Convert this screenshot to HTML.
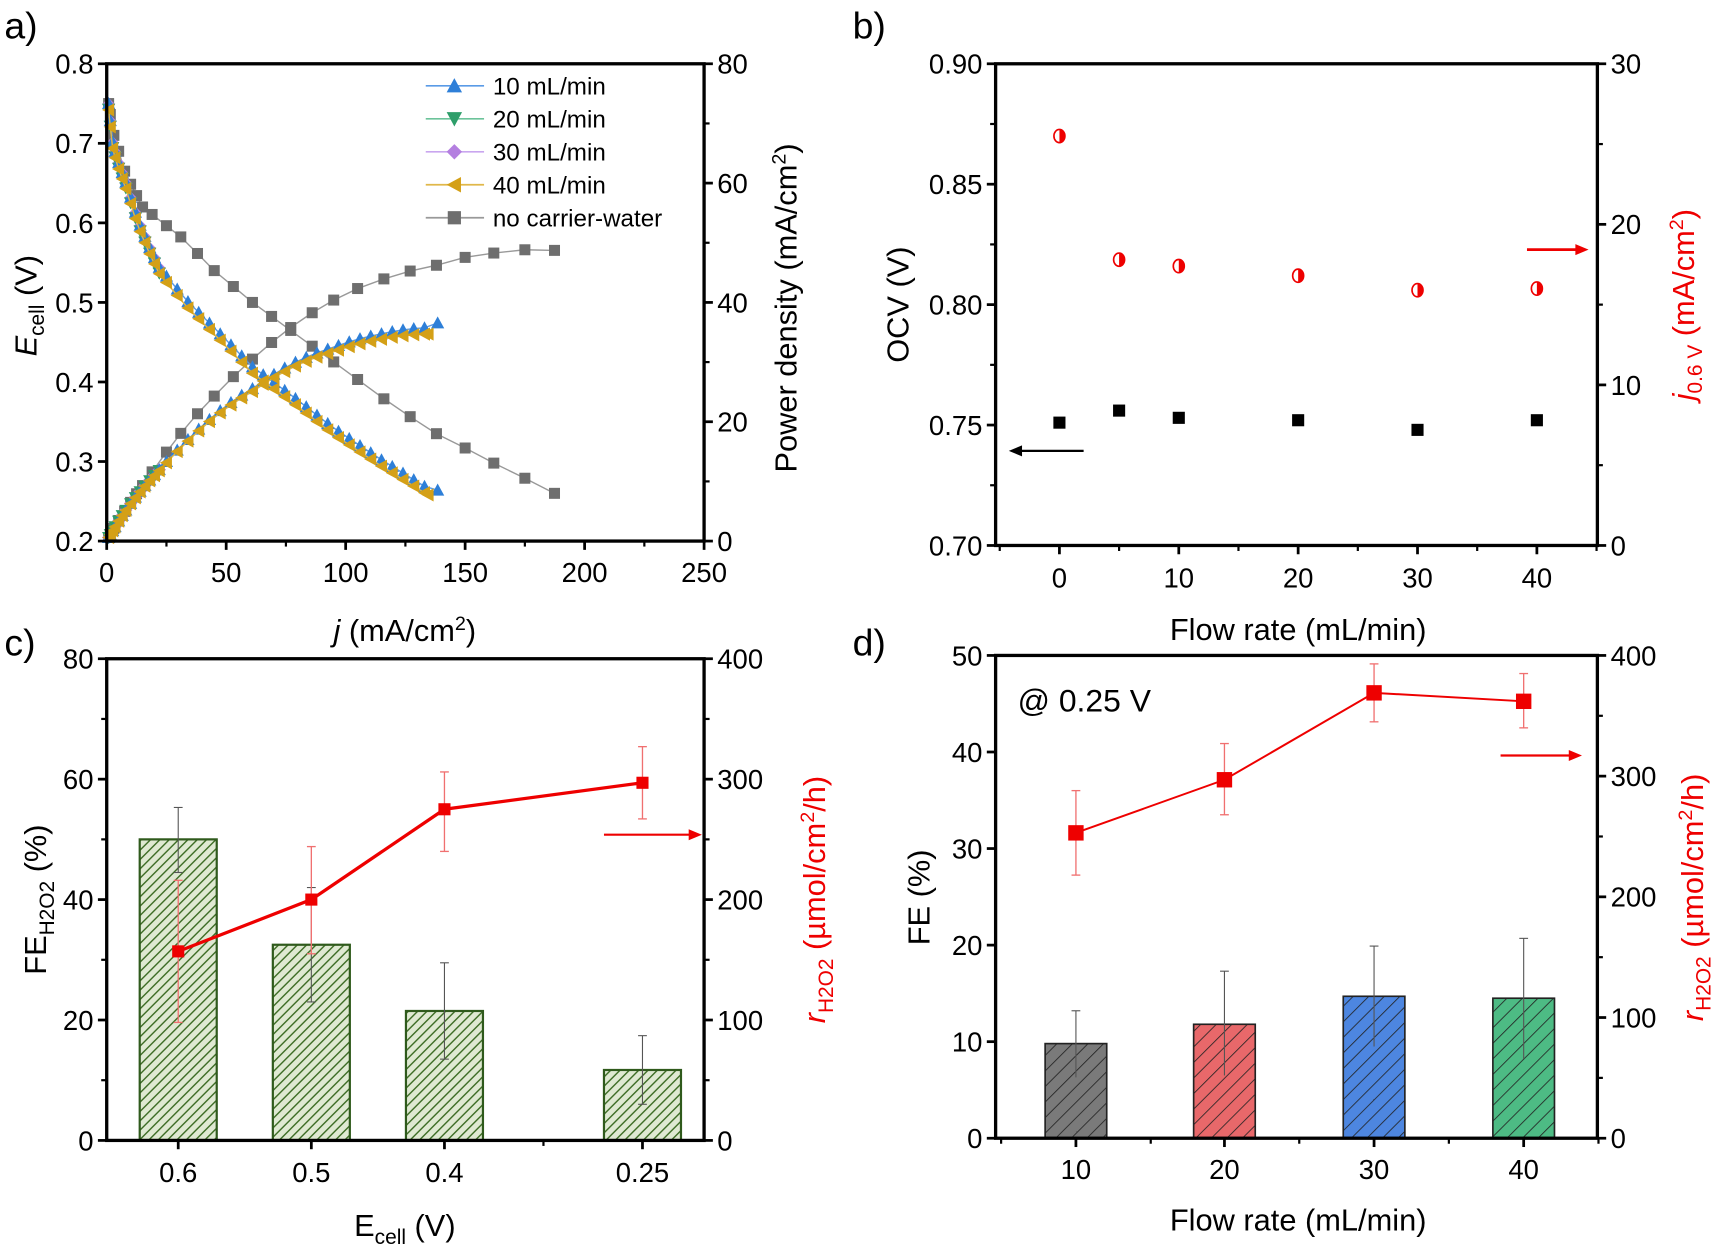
<!DOCTYPE html>
<html><head><meta charset="utf-8"><style>
html,body{margin:0;padding:0;background:#fff}
svg{display:block}
text{font-family:"Liberation Sans",Arial,sans-serif}
</style></head><body>
<svg id="s" xmlns="http://www.w3.org/2000/svg" width="1725" height="1246" viewBox="0 0 1568 1133" preserveAspectRatio="none">
<defs>
<pattern id="hc" width="6" height="6" patternUnits="userSpaceOnUse" patternTransform="rotate(45)">
<rect width="6" height="6" fill="#dfe9d2"/><line x1="0" y1="0" x2="0" y2="6" stroke="#3f6e27" stroke-width="2.6"/></pattern>
<pattern id="hk" width="10" height="10" patternUnits="userSpaceOnUse" patternTransform="rotate(45)">
<rect width="10" height="10" fill="#7a7a7a"/><line x1="0" y1="0" x2="0" y2="10" stroke="#222" stroke-width="1.5"/></pattern>
<pattern id="hr" width="10" height="10" patternUnits="userSpaceOnUse" patternTransform="rotate(45)">
<rect width="10" height="10" fill="#e8686a"/><line x1="0" y1="0" x2="0" y2="10" stroke="#222" stroke-width="1.5"/></pattern>
<pattern id="hb" width="10" height="10" patternUnits="userSpaceOnUse" patternTransform="rotate(45)">
<rect width="10" height="10" fill="#4d86e0"/><line x1="0" y1="0" x2="0" y2="10" stroke="#222" stroke-width="1.5"/></pattern>
<pattern id="hg" width="10" height="10" patternUnits="userSpaceOnUse" patternTransform="rotate(45)">
<rect width="10" height="10" fill="#4dbb84"/><line x1="0" y1="0" x2="0" y2="10" stroke="#222" stroke-width="1.5"/></pattern>
</defs>
<g id="g"></g>
</svg>
<script>
var g=document.getElementById('g'),out='';
function add(s){out+=s;}
function txt(x,y,s,o){o=o||{};add('<text x="'+x+'" y="'+y+'" font-size="'+(o.fs||25)+'" fill="'+(o.c||'#000')+'" text-anchor="'+(o.a||'middle')+'"'+(o.r?' transform="rotate(-90 '+x+' '+y+')"':'')+'>'+s+'</text>');}
function line(x1,y1,x2,y2,c,w,extra){add('<line x1="'+x1+'" y1="'+y1+'" x2="'+x2+'" y2="'+y2+'" stroke="'+(c||'#000')+'" stroke-width="'+(w||2)+'" '+(extra||'')+'/>');}
function frame(L,R,T,B){add('<rect x="'+L+'" y="'+T+'" width="'+(R-L)+'" height="'+(B-T)+'" fill="none" stroke="#000" stroke-width="3"/>');}
function yticksL(L,T,B,vals,lab,minor){var n=vals.length;for(var i=0;i<n;i++){var y=B-(B-T)*i/(n-1);line(L-8,y,L,y,'#000',2.5);txt(L-12,y+9,lab[i],{a:'end',fs:25});if(minor&&i<n-1){var ym=y-(B-T)/(n-1)/2;line(L-5,ym,L,ym,'#000',2);}}}
function yticksR(R,T,B,lab,c,minor){var n=lab.length;for(var i=0;i<n;i++){var y=B-(B-T)*i/(n-1);line(R,y,R+8,y,'#000',2.5);txt(R+12,y+9,lab[i],{a:'start',fs:25,c:'#000'});if(minor&&i<n-1){var ym=y-(B-T)/(n-1)/2;line(R,ym,R+5,ym,'#000',2);}}}
// ---------- panel a
var aL=97,aR=640,aT=58,aB=492;
function ax(j){return aL+j*(aR-aL)/250;}
function ayE(E){return aB-(E-0.2)*(aB-aT)/0.6;}
function ayP(P){return aB-P*(aB-aT)/80;}
function interp(xs,ys,x){for(var i=0;i<xs.length-1;i++){if(x<=xs[i+1]){var t=(x-xs[i])/(xs[i+1]-xs[i]);return ys[i]+t*(ys[i+1]-ys[i]);}}return ys[ys.length-1];}
var fj=[0,1,2.3,4,8,13,18,22,33,47,61,77,95,114,134.5,138.5],fE=[0.77,0.74,0.70,0.68,0.647,0.60,0.565,0.54,0.50,0.458,0.415,0.38,0.338,0.30,0.262,0.26];
var nj=[0,1,3,8,15,32,45,61,96,120,138,150,162,175,187.4],nE=[0.77,0.745,0.71,0.66,0.62,0.58,0.54,0.50,0.423,0.37,0.335,0.317,0.298,0.279,0.26];
function marker(type,x,y,c,s){s=s||5;
 if(type=='sq')add('<rect x="'+(x-s)+'" y="'+(y-s)+'" width="'+(2*s)+'" height="'+(2*s)+'" fill="'+c+'"/>');
 if(type=='up')add('<polygon points="'+x+','+(y-s-1)+' '+(x+s+1)+','+(y+s)+' '+(x-s-1)+','+(y+s)+'" fill="'+c+'"/>');
 if(type=='dn')add('<polygon points="'+x+','+(y+s+1)+' '+(x+s+1)+','+(y-s)+' '+(x-s-1)+','+(y-s)+'" fill="'+c+'"/>');
 if(type=='di')add('<polygon points="'+x+','+(y-s-1)+' '+(x+s+1)+','+y+' '+x+','+(y+s+1)+' '+(x-s-1)+','+y+'" fill="'+c+'"/>');
 if(type=='lt')add('<polygon points="'+(x-s-1)+','+y+' '+(x+s)+','+(y-s-1)+' '+(x+s)+','+(y+s+1)+'" fill="'+c+'"/>');
}
function series(js,Ef,type,c,lc){var pE=[],pP=[],pts=js.map(function(j){return [j,Ef(j)];});
 pts.forEach(function(p){pE.push(ax(p[0]).toFixed(1)+','+ayE(p[1]).toFixed(1));pP.push(ax(p[0]).toFixed(1)+','+ayP(p[0]*p[1]).toFixed(1));});
 add('<polyline points="'+pE.join(' ')+'" fill="none" stroke="'+lc+'" stroke-width="1.3"/>');
 add('<polyline points="'+pP.join(' ')+'" fill="none" stroke="'+lc+'" stroke-width="1.3"/>');
 pts.forEach(function(p){marker(type,ax(p[0]),ayE(p[1]),c);marker(type,ax(p[0]),ayP(p[0]*p[1]),c);});}
function flowJ(jmax){var a=[0.8,1.5,2.5,3.5,5,6.5,8,10,12,14,16,18,20,22];for(var j=25;j<jmax-1;j+=4.5)a.push(j);a.push(jmax);return a;}
var nJ=[0.8,1.5,3,5,7.5,10,12.5,15,19,25,31,38,45,53,61,69,77,86,95,105,116,127,138,150,162,175,187.4];
var fF=function(j){return interp(fj,fE,j);},nF=function(j){return interp(nj,nE,j);};
series(nJ,nF,'sq','#6e6e6e','#999');
series(flowJ(22),function(j){return fF(j)+0.003;},'di','#b47fe0','#c9a6ef');
series(flowJ(22),function(j){return fF(j)-0.003;},'dn','#2e9e6a','#6cc39a');
series(flowJ(138.5),function(j){return fF(j)+0.004;},'up','#2e7fd8','#5a9be6');
series(flowJ(134.5),function(j){return fF(j)-0.004;},'lt','#d4a017','#e0b84a');
frame(aL,aR,aT,aB);
yticksL(aL,aT,aB,[0,1,2,3,4,5,6],['0.2','0.3','0.4','0.5','0.6','0.7','0.8'],false);
yticksR(aR,aT,aB,['0','20','40','60','80'],'#000',true);
for(var i=0;i<=5;i++){var x=ax(i*50);line(x,aB,x,aB+8,'#000',2.5);txt(x,aB+37,String(i*50),{fs:25});if(i<5)line(x+(aR-aL)/10,aB,x+(aR-aL)/10,aB+5,'#000',2);}
var leg=[['up','#2e7fd8','#5a9be6','10 mL/min'],['dn','#2e9e6a','#6cc39a','20 mL/min'],['di','#b47fe0','#c9a6ef','30 mL/min'],['lt','#d4a017','#e0b84a','40 mL/min'],['sq','#6e6e6e','#999','no carrier-water']];
leg.forEach(function(l,i){var y=78+i*30;line(387,y,440,y,l[2],1.5);marker(l[0],413,y,l[1],6);txt(448,y+8,l[3],{a:'start',fs:22});});
add('<text x="33" y="278" font-size="28" text-anchor="middle" transform="rotate(-90 33 278)"><tspan font-style="italic">E</tspan><tspan font-size="19" dy="7">cell</tspan><tspan dy="-7"> (V)</tspan></text>');
add('<text x="724" y="280" font-size="28" text-anchor="middle" transform="rotate(-90 724 280)">Power density (mA/cm<tspan font-size="18" dy="-10">2</tspan><tspan dy="10">)</tspan></text>');
add('<text x="368" y="583" font-size="28" text-anchor="middle"><tspan font-style="italic">j</tspan> (mA/cm<tspan font-size="18" dy="-10">2</tspan><tspan dy="10">)</tspan></text>');
txt(4,35,'a)',{a:'start',fs:34});
// ---------- panel b
var bL=905,bR=1452,bT=58,bB=496;
function bx(f){return 963+f*(1397-963)/40;}
function byO(v){return bB-(v-0.7)*(bB-bT)/0.2;}
function byJ(v){return bB-v*(bB-bT)/30;}
frame(bL,bR,bT,bB);
yticksL(bL,bT,bB,[0,1,2,3,4],['0.70','0.75','0.80','0.85','0.90'],true);
yticksR(bR,bT,bB,['0','10','20','30'],'#000',true);
[0,10,20,30,40].forEach(function(f,i){var x=bx(f);line(x,bB,x,bB+8,'#000',2.5);txt(x,bB+38,String(f),{fs:25});line(x+54.25,bB,x+54.25,bB+5,'#000',2);});
line(bx(-5),bB,bx(-5),bB+5,'#000',2);
var bd=[[0,0.751,25.5],[5,0.756,17.8],[10,0.753,17.4],[20,0.752,16.8],[30,0.748,15.9],[40,0.752,16.0]];
bd.forEach(function(d){marker('sq',bx(d[0]),byO(d[1]),'#000',5.5);var x=bx(d[0]),y=byJ(d[2]);
 add('<ellipse cx="'+x+'" cy="'+y+'" rx="5" ry="6" fill="#fff" stroke="#e00" stroke-width="1.5"/>');
 add('<path d="M'+x+','+(y-6)+' A5,6 0 0 1 '+x+','+(y+6)+' Z" fill="#e00"/>');});
line(985,410,924,410,'#000',2);add('<polygon points="917,410 929,405 929,415" fill="#000"/>');
line(1388,227,1436,227,'#e00',2.5);add('<polygon points="1444,227 1432,222 1432,232" fill="#e00"/>');
txt(826,277,'OCV (V)',{fs:28,r:true});
add('<text x="1540" y="277" font-size="28" fill="#e00" text-anchor="middle" transform="rotate(-90 1540 277)"><tspan font-style="italic">j</tspan><tspan font-size="19" dy="7">0.6 V</tspan><tspan dy="-7"> (mA/cm</tspan><tspan font-size="18" dy="-10">2</tspan><tspan dy="10">)</tspan></text>');
txt(1180,582,'Flow rate (mL/min)',{fs:28});
txt(775,35,'b)',{a:'start',fs:34});
// ---------- panel c
var cL=97,cR=640,cT=599,cB=1037;
function cyF(v){return cB-v*(cB-cT)/80;}
function cyR(v){return cB-v*(cB-cT)/400;}
var cb=[[162,50,44.5,55.3,157,98,216,'0.6'],[283,32.5,23,42,200,155,244,'0.5'],[404,21.5,13.5,29.5,275,240,306,'0.4'],[584,11.7,6,17.4,297,267,327,'0.25']];
cb.forEach(function(b){var x=b[0];add('<rect x="'+(x-35)+'" y="'+cyF(b[1])+'" width="70" height="'+(cB-cyF(b[1]))+'" fill="url(#hc)" stroke="#2f5a1c" stroke-width="2"/>');
 line(x,cyF(b[2]),x,cyF(b[3]),'#555',1);line(x-4,cyF(b[3]),x+4,cyF(b[3]),'#555',1);line(x-4,cyF(b[2]),x+4,cyF(b[2]),'#555',1);});
cb.forEach(function(b){var x=b[0];line(x,cyR(b[5]),x,cyR(b[6]),'#f07070',1.2);line(x-4,cyR(b[5]),x+4,cyR(b[5]),'#f07070',1.2);line(x-4,cyR(b[6]),x+4,cyR(b[6]),'#f07070',1.2);});
add('<polyline points="'+cb.map(function(b){return b[0]+','+cyR(b[4]);}).join(' ')+'" fill="none" stroke="#e00" stroke-width="3"/>');
cb.forEach(function(b){marker('sq',b[0],cyR(b[4]),'#e00',5.5);});
frame(cL,cR,cT,cB);
yticksL(cL,cT,cB,[0,1,2,3,4],['0','20','40','60','80'],true);
yticksR(cR,cT,cB,['0','100','200','300','400'],'#000',true);
cb.forEach(function(b){line(b[0],cB,b[0],cB+8,'#000',2.5);txt(b[0],cB+38,b[7],{fs:25});});
line(494,cB,494,cB+5,'#000',2);
line(549,759,630,759,'#e00',2);add('<polygon points="638,759 626,754 626,764" fill="#e00"/>');
add('<text x="42" y="818" font-size="28" text-anchor="middle" transform="rotate(-90 42 818)">FE<tspan font-size="19" dy="7">H2O2</tspan><tspan dy="-7"> (%)</tspan></text>');
add('<text x="750" y="818" font-size="28" fill="#e00" text-anchor="middle" transform="rotate(-90 750 818)"><tspan font-style="italic">r</tspan><tspan font-size="19" dy="7">H2O2</tspan><tspan dy="-7"> (µmol/cm</tspan><tspan font-size="18" dy="-10">2</tspan><tspan dy="10">/h)</tspan></text>');
add('<text x="368" y="1124" font-size="28" text-anchor="middle">E<tspan font-size="19" dy="7">cell</tspan><tspan dy="-7"> (V)</tspan></text>');
txt(4,596,'c)',{a:'start',fs:34});
// ---------- panel d
var dL=905,dR=1452,dT=596,dB=1035;
function dyF(v){return dB-v*(dB-dT)/50;}
function dyR(v){return dB-v*(dB-dT)/400;}
var db=[[978,9.8,6.3,13.2,253,218,288,'10','hk'],[1113,11.8,6.5,17.3,297,268,327,'20','hr'],[1249,14.7,9.5,19.9,369,345,393,'30','hb'],[1385,14.5,8.2,20.7,362,340,385,'40','hg']];
db.forEach(function(b){var x=b[0];add('<rect x="'+(x-28)+'" y="'+dyF(b[1])+'" width="56" height="'+(dB-dyF(b[1]))+'" fill="url(#'+b[8]+')" stroke="#222" stroke-width="1.5"/>');
 line(x,dyF(b[2]),x,dyF(b[3]),'#555',1);line(x-4,dyF(b[3]),x+4,dyF(b[3]),'#555',1);});
db.forEach(function(b){var x=b[0];line(x,dyR(b[5]),x,dyR(b[6]),'#f07070',1.2);line(x-4,dyR(b[5]),x+4,dyR(b[5]),'#f07070',1.2);line(x-4,dyR(b[6]),x+4,dyR(b[6]),'#f07070',1.2);});
add('<polyline points="'+db.map(function(b){return b[0]+','+dyR(b[4]);}).join(' ')+'" fill="none" stroke="#e00" stroke-width="1.8"/>');
db.forEach(function(b){marker('sq',b[0],dyR(b[4]),'#e00',7);});
frame(dL,dR,dT,dB);
yticksL(dL,dT,dB,[0,1,2,3,4,5],['0','10','20','30','40','50'],false);
yticksR(dR,dT,dB,['0','100','200','300','400'],'#000',true);
db.forEach(function(b){line(b[0],dB,b[0],dB+8,'#000',2.5);txt(b[0],dB+37,b[7],{fs:25});line(b[0]+68,dB,b[0]+68,dB+5,'#000',2);});
line(910,dB,910,dB+5,'#000',2);
line(1364,687,1430,687,'#e00',2);add('<polygon points="1438,687 1426,682 1426,692" fill="#e00"/>');
txt(925,647,'@ 0.25 V',{a:'start',fs:29});
txt(845,816,'FE (%)',{fs:28,r:true});
add('<text x="1548" y="816" font-size="28" fill="#e00" text-anchor="middle" transform="rotate(-90 1548 816)"><tspan font-style="italic">r</tspan><tspan font-size="19" dy="7">H2O2</tspan><tspan dy="-7"> (µmol/cm</tspan><tspan font-size="18" dy="-10">2</tspan><tspan dy="10">/h)</tspan></text>');
txt(1180,1119,'Flow rate (mL/min)',{fs:28});
txt(775,596,'d)',{a:'start',fs:34});
g.innerHTML=out;
</script>
</body></html>
